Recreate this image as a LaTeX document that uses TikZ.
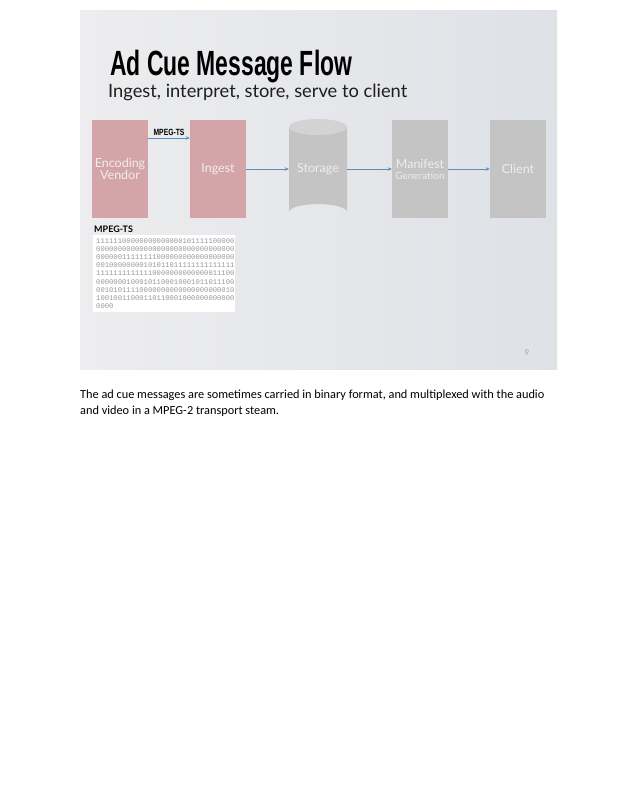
\documentclass[tikz,border=0pt]{standalone}
\usepackage{fontspec}
\usepackage{graphicx}
\usetikzlibrary{arrows.meta}
\setmainfont{Lato}
\newfontfamily\titlefont{Liberation Sans}
\newfontfamily\capfont{Carlito}
\newfontfamily\bitfont{Liberation Mono}
\definecolor{pinkbox}{HTML}{D3A5A9}
\definecolor{graybox}{HTML}{C4C4C4}
\definecolor{graytop}{HTML}{D3D3D3}
\definecolor{arrowblue}{HTML}{5A8DC0}
\definecolor{boxtext}{HTML}{F3ECEC}
\definecolor{bitgray}{HTML}{9A9A9A}
\begin{document}
\begin{tikzpicture}[x=1pt,y=-1pt,
  stage/.style={minimum width=56pt,minimum height=98pt,inner sep=0pt,align=center,
     text=boxtext,font=\fontsize{12.5}{14}\selectfont},
  pinkstage/.style={stage,fill=pinkbox},
  graystage/.style={stage,fill=graybox},
  captext/.style={anchor=base west,inner sep=0pt,font=\capfont\fontsize{12.3}{16}\selectfont},
  flow/.style={draw=arrowblue,line width=0.75pt,-{Stealth[length=4pt,width=3.5pt]}}]
\useasboundingbox (0,0) rectangle (638,812);
\fill[white] (0,0) rectangle (638,812);
% slide
\shade[left color={rgb,255:red,237;green,237;blue,239},right color={rgb,255:red,222;green,225;blue,230}]
  (80,10) rectangle (557,369);
\node[anchor=base west,inner sep=0pt] (title) at (110,75)
  {\scalebox{0.655}[1]{\titlefont\bfseries\fontsize{35}{40}\selectfont Ad Cue Message Flow}};
\node[anchor=base west,inner sep=0pt,text={rgb,255:red,30;green,30;blue,30}] (sub) at (108,97)
  {\fontsize{18.3}{20}\selectfont Ingest, interpret, store, serve to client};
% stages
\node[pinkstage] (enc) at (120,169) {Encoding\\[-2pt]Vendor};
\node[pinkstage] (ing) at (218,169) {Ingest};
% storage cylinder
\fill[graybox] (289,127) -- (289,212) arc[start angle=180,end angle=360,x radius=29,y radius=8] -- (347,127) -- cycle;
\fill[graytop] (318,127) ellipse[x radius=29,y radius=8];
\node[stage,minimum width=58pt] (sto) at (318,169) {Storage};
\node[graystage] (man) at (420,169) {Manifest\\[-3pt]{\fontsize{10}{12}\selectfont Generation}};
\node[graystage] (cli) at (518,169) {Client};
% connectors
\draw[flow] (enc.east |- 0,138) -- node[above=0pt,font=\titlefont\bfseries\fontsize{9}{10}\selectfont,text=black,inner sep=2pt]
  {\scalebox{0.75}[1]{MPEG-TS}} (ing.west |- 0,138);
\draw[flow] (ing.east) -- (sto.west);
\draw[flow] (sto.east) -- (man.west);
\draw[flow] (man.east) -- (cli.west);
% binary panel
\node[anchor=base west,inner sep=0pt,font=\bfseries\fontsize{9}{10}\selectfont] (mpeg) at (94,232) {MPEG-TS};
\node[fill=white,anchor=north west,minimum width=142pt,minimum height=77pt,inner sep=0pt] (panel) at (93,235) {};
\node[anchor=north west,inner sep=0pt,align=left,text=bitgray,font=\bitfont\fontsize{7.2}{8.2}\selectfont] (bits) at (96,238)
  {11111100000000000000101111100000\\
   00000000000000000000000000000000\\
   00000011111111000000000000000000\\
   00100000000101011011111111111111\\
   11111111111110000000000000011100\\
   00000001000101100010001011011100\\
   00101011110000000000000000000010\\
   10010011000110110001000000000000\\
   0000};
\node[text={rgb,255:red,165;green,170;blue,178},font=\fontsize{8}{9}\selectfont] (pg) at (527,353) {9};
% caption
\node[captext] (cap1) at (80,398)
  {The ad cue messages are sometimes carried in binary format, and multiplexed with the audio};
\node[captext] (cap2) at (80,414) {and video in a MPEG-2 transport steam.};
\end{tikzpicture}
\end{document}
